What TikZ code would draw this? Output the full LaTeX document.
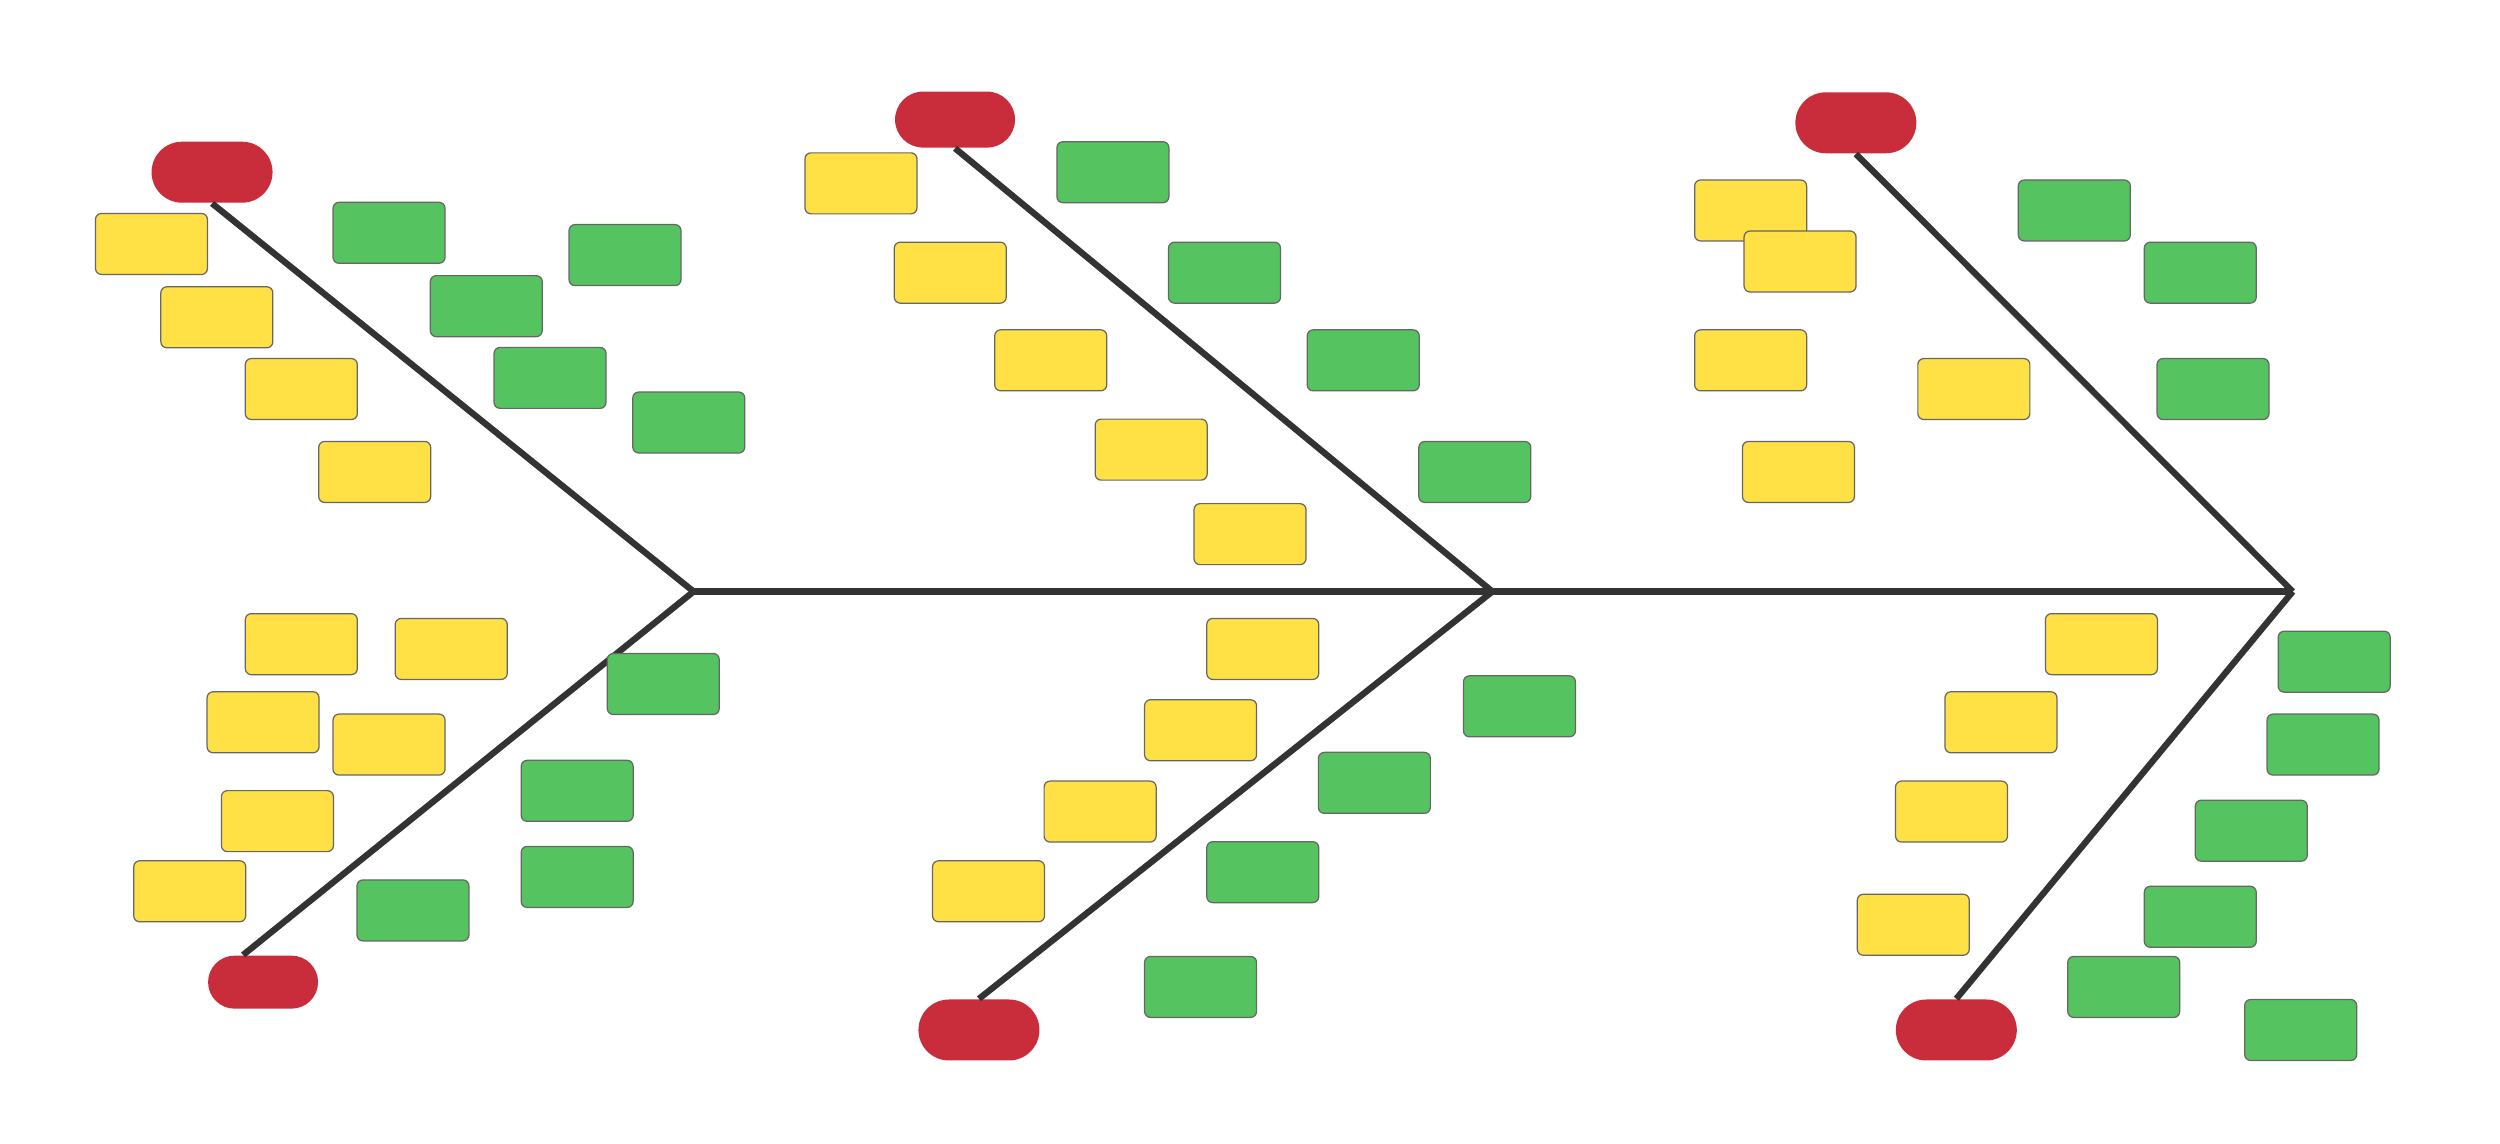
\documentclass[tikz,border=0pt]{standalone}
\usetikzlibrary{shapes.misc}
\definecolor{boneline}{HTML}{333333}
\definecolor{headred}{HTML}{C92D3B}
\definecolor{noteyellow}{HTML}{FFE145}
\definecolor{notegreen}{HTML}{55C35F}
\tikzset{
    every path/.style={
        color=boneline
    },
    bone/.style={
        line width=1.8pt
    }
}
\tikzstyle{cause}=[rounded rectangle, fill=headred, draw=none, minimum width=12.1mm, minimum height=6.1mm, inner sep=0pt]
\tikzstyle{note}=[draw=black!60, line width=0.35pt, rounded corners=0.6mm, minimum width=11.2mm, minimum height=6.1mm, inner sep=0pt]
\tikzstyle{idea}=[note, fill=noteyellow]
\tikzstyle{fix}=[note, fill=notegreen]

\begin{document}
\begin{tikzpicture}[x=0.15944mm, y=-0.15944mm]
\useasboundingbox (0,0) rectangle (1568,717);

\coordinate (J1) at (435,371);
\coordinate (J2) at (936,371);
\coordinate (J3) at (1438,371);

\node[cause] (C1) at (133,108) {};
\node[cause, minimum width=12mm, minimum height=5.6mm] (C2) at (599,75) {};
\node[cause] (C3) at (1164,77) {};
\node[cause, minimum width=11mm, minimum height=5.3mm] (C4) at (165,616) {};
\node[cause] (C5) at (614,646) {};
\node[cause] (C6) at (1227,646) {};

\draw[bone] (J1) -- (J2) -- (J3);
\draw[bone] (C1.south) -- (J1);
\draw[bone] (C2.south) -- (J2);
\draw[bone] (C3.south) -- (J3);
\draw[bone] ([xshift=-2mm]C4.north) -- (J1);
\draw[bone] (C5.north) -- (J2);
\draw[bone] (C6.north) -- (J3);

% top left
\node[idea] (Y11) at (95,153) {};
\node[idea] (Y12) at (136,199) {};
\node[idea] (Y13) at (189,244) {};
\node[idea] (Y14) at (235,296) {};
\node[fix] (G11) at (244,146) {};
\node[fix] (G12) at (392,160) {};
\node[fix] (G13) at (305,192) {};
\node[fix] (G14) at (345,237) {};
\node[fix] (G15) at (432,265) {};

% top middle
\node[idea] (Y21) at (540,115) {};
\node[idea] (Y22) at (596,171) {};
\node[idea] (Y23) at (659,226) {};
\node[idea] (Y24) at (722,282) {};
\node[idea] (Y25) at (784,335) {};
\node[fix] (G21) at (698,108) {};
\node[fix] (G22) at (768,171) {};
\node[fix] (G23) at (855,226) {};
\node[fix] (G24) at (925,296) {};

% top right
\node[idea] (Y31) at (1098,132) {};
\node[idea] (Y32) at (1129,164) {};
\node[idea] (Y33) at (1098,226) {};
\node[idea] (Y34) at (1238,244) {};
\node[idea] (Y35) at (1128,296) {};
\node[fix] (G31) at (1301,132) {};
\node[fix] (G32) at (1380,171) {};
\node[fix] (G33) at (1388,244) {};

% bottom left
\node[idea] (Y41) at (189,404) {};
\node[idea] (Y42) at (283,407) {};
\node[idea] (Y43) at (165,453) {};
\node[idea] (Y44) at (244,467) {};
\node[idea] (Y45) at (174,515) {};
\node[idea] (Y46) at (119,559) {};
\node[fix] (G41) at (416,429) {};
\node[fix] (G42) at (362,496) {};
\node[fix] (G43) at (362,550) {};
\node[fix] (G44) at (259,571) {};

% bottom middle
\node[idea] (Y51) at (792,407) {};
\node[idea] (Y52) at (753,458) {};
\node[idea] (Y53) at (690,509) {};
\node[idea] (Y54) at (620,559) {};
\node[fix] (G51) at (953,443) {};
\node[fix] (G52) at (862,491) {};
\node[fix] (G53) at (792,547) {};
\node[fix] (G54) at (753,619) {};

% bottom right
\node[idea] (Y61) at (1318,404) {};
\node[idea] (Y62) at (1255,453) {};
\node[idea] (Y63) at (1224,509) {};
\node[idea] (Y64) at (1200,580) {};
\node[fix] (G61) at (1464,415) {};
\node[fix] (G62) at (1457,467) {};
\node[fix] (G63) at (1412,521) {};
\node[fix] (G64) at (1380,575) {};
\node[fix] (G65) at (1332,619) {};
\node[fix] (G66) at (1443,646) {};

\end{tikzpicture}
\end{document}
